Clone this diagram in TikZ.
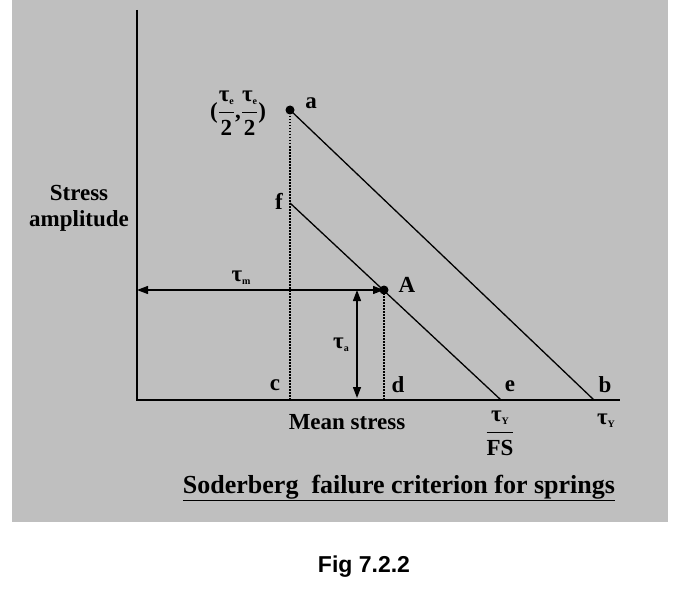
\documentclass[tikz,border=0pt]{standalone}
\usepackage{fontspec}
\setmainfont{Liberation Serif}
\newfontfamily\figsans{Liberation Sans}
\usetikzlibrary{arrows.meta}
\newcommand\tauS[1]{τ\raisebox{-3pt}{\fontsize{10}{10}\selectfont #1}}
\newcommand\myfr[2]{$\displaystyle\frac{\hbox{\bfseries #1}}{\hbox{\bfseries #2}}$}
\begin{document}
\begin{tikzpicture}[x=1pt,y=-1pt,
  lbl/.style={font=\fontsize{23}{26}\selectfont\bfseries,inner sep=0pt},
  ln/.style={line width=1.3pt},
  dl/.style={line width=1.3pt,dash pattern=on 1.5pt off 1.5pt},
  arr/.style={line width=1.3pt,{Triangle[length=11pt,width=8pt]}-{Triangle[length=11pt,width=8pt]}}]
\useasboundingbox (0,0) rectangle (692,588);
\fill[white] (0,0) rectangle (692,588);
\fill[black!25] (12,0) rectangle (668,522);
\coordinate (o) at (137,400);
\coordinate (top) at (137,10);
\coordinate (xend) at (620,400);
\coordinate (a) at (290,110);
\coordinate (f) at (290,203);
\coordinate (A) at (384,290);
\coordinate (e) at (501,400);
\coordinate (b) at (594,400);
\coordinate (c) at (290,400);
\coordinate (d) at (384,400);
\coordinate (l) at (137,290);
\coordinate (ta1) at (357,290);
\coordinate (ta2) at (357,398);
\draw[ln] (top) -- (o) -- (xend);
\draw[ln] (a) -- (b);
\draw[ln] (f) -- (e);
\draw[dl] (a) -- (c);
\draw[dl] (A) -- (d);
\draw[arr] (l) -- (A);
\draw[arr] (ta1) -- (ta2);
\fill (a) circle (4.5pt);
\fill (A) circle (4.5pt);
\node[lbl] (la) at (311,103) {a};
\node[lbl] (lpt) at (238,113) {(\myfr{\tauS{e}}{2},\myfr{\tauS{e}}{2})};
\node[lbl] (lf) at (279,201) {f};
\node[lbl] (lA) at (407,285) {A};
\node[lbl] (ltm) at (241,278) {\tauS{m}};
\node[lbl] (lta) at (341,345) {\tauS{a}};
\node[lbl] (lc) at (275,385) {c};
\node[lbl] (ld) at (398,385) {d};
\node[lbl] (le) at (510,386) {e};
\node[lbl] (lb) at (605,385) {b};
\node[lbl,align=center] (lsa) at (79,208) {Stress\\amplitude};
\node[lbl] (lms) at (347,422) {Mean stress};
\node[lbl] (lty) at (500,433) {\myfr{\tauS{Y}}{FS}};
\node[lbl] (lty2) at (606,421) {\tauS{Y}};
\node[lbl,font=\fontsize{26}{28}\selectfont\bfseries] (tt) at (399,488) {\underline{Soderberg\ \ failure criterion for springs}};
\node[inner sep=0pt,font=\fontsize{23}{25}\selectfont\figsans\bfseries] (fig) at (364,567) {Fig 7.2.2};
\end{tikzpicture}
\end{document}
